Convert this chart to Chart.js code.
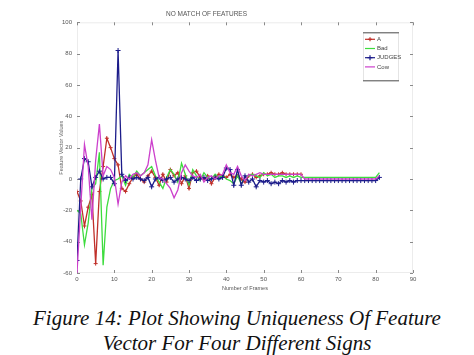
<!DOCTYPE html>
<html><head><meta charset="utf-8">
<script src="https://cdn.jsdelivr.net/npm/chart.js@4"></script>
<style>
html,body{margin:0;padding:0;background:#fff;}
#wrap{position:relative;width:474px;height:355px;overflow:hidden;}
#box{position:absolute;left:0;top:0;width:474px;height:300px;}
#cap{position:absolute;left:0;top:306px;width:474px;text-align:center;font-family:"Liberation Serif","DejaVu Serif",serif;font-style:italic;font-size:21px;line-height:25px;color:#111;}
</style></head><body>
<div id="wrap"><div id="box"><canvas id="c" width="474" height="300"></canvas></div>
<div id="cap">Figure 14: Plot Showing Uniqueness Of Feature<br>Vector For Four Different Signs</div></div>
<script>
const chartTitle = "NO MATCH OF FEATURES";
const xTitle = "Number of Frames";
const yTitle = "Feature Vector Values";
const seriesNames = ["A", "Bad", "JUDGES", "Cow"];
const framesShort = [0,1,2,3,4,5,6,7,8,9,10,11,12,13,14,15,16,17,18,19,20,21,22,23,24,25,26,27,28,29,30,31,32,33,34,35,36,37,38,39,40,41,42,43,44,45,46,47,48,49,50,51,52,53,54,55,56,57,58,59,60];
const framesLong = [0,1,2,3,4,5,6,7,8,9,10,11,12,13,14,15,16,17,18,19,20,21,22,23,24,25,26,27,28,29,30,31,32,33,34,35,36,37,38,39,40,41,42,43,44,45,46,47,48,49,50,51,52,53,54,55,56,57,58,59,60,61,62,63,64,65,66,67,68,69,70,71,72,73,74,75,76,77,78,79,80,81];
const valuesA = [-8,-14,-30,-18,-10,-54,-8,8,26,20,13,9,-6,-8,-3,1,3,0,-2,2,5,1,-4,3,-2,6,2,4,-3,2,-6,4,5,1,0,2,-3,1,3,2,1,3,1,2,0,-2,2,3,1,2,3,3,4,3,3,4,3,3,3,3,3];
const valuesBad = [-20,-22,-42,-28,-6,-3,17,-55,-18,-6,-1,0,2,-4,3,1,5,2,4,6,8,2,-2,-6,1,6,3,-2,10,3,-4,6,2,-1,4,1,0,3,1,2,0,-1,-3,2,-3,1,2,3,2,1,4,2,3,1,2,2,1,2,1,2,1,1,1,1,1,1,1,1,1,1,1,1,1,1,1,1,1,1,1,1,1,4];
const valuesJudges = [-52,0,13,11,-5,1,5,0,1,1,-3,82,3,-1,1,0,1,0,-1,1,-5,0,1,-1,0,1,-2,0,1,0,-1,1,-1,0,1,-1,0,1,0,1,7,6,-4,6,-4,2,-2,0,-5,-1,-2,-1,-3,-2,-3,-1,-2,-1,-2,-1,-1,-1,-1,-1,-1,-1,-1,-1,-1,-1,-1,-1,-1,-1,-1,-1,-1,-1,-1,-1,-1,1];
const valuesCow = [-60,-18,22,8,-26,12,35,2,8,6,1,-16,-2,2,0,3,4,2,4,9,25,12,1,0,-3,-6,-12,-7,4,9,5,2,1,3,-2,1,2,0,2,3,9,4,3,8,2,-1,3,2,3,4,3,3,3,3,3,3,3,3,3,3,3,0,0,0,0,0,0,0,0,0,0,0,0,0,0,0,0,0,0,0,0,2];
const xTicks = [0,10,20,30,40,50,60,70,80,90];
const yTicks = [-60,-40,-20,0,20,40,60,80,100];

function pts(xs, ys){ return ys.map((v,i)=>({x:xs[i], y:v})); }
const colors = ["#c0302a", "#3ddc3d", "#1c1c8a", "#cc40cc"];
const styles = ["cross", false, "cross", false];
const radii = [2, 0, 2.5, 0];
const FONT = '"Liberation Sans", Arial, sans-serif';

const frame = {
  id: 'frame',
  beforeDatasetsDraw(chart){
    const {ctx, chartArea:a, scales} = chart;
    ctx.save();
    ctx.strokeStyle = '#ececec'; ctx.lineWidth = 1;
    ctx.strokeRect(a.left+0.5, a.top+0.5, a.right-a.left-1, a.bottom-a.top-1);
    ctx.strokeStyle = '#8a8a8a';
    ctx.beginPath();
    xTicks.forEach(t=>{ const p = Math.round(scales.x.getPixelForValue(t))+0.5;
      ctx.moveTo(p, a.bottom); ctx.lineTo(p, a.bottom-3);
      ctx.moveTo(p, a.top); ctx.lineTo(p, a.top+3); });
    yTicks.forEach(t=>{ const p = Math.round(scales.y.getPixelForValue(t))+0.5;
      ctx.moveTo(a.left, p); ctx.lineTo(a.left+3, p);
      ctx.moveTo(a.right, p); ctx.lineTo(a.right-3, p); });
    ctx.stroke();
    ctx.restore();
  },
  afterDraw(chart){
    const {ctx, chartArea:a} = chart;
    const L = a.right - 50, T = a.top + 10, W = 35, H = 48;
    ctx.save();
    ctx.strokeStyle = '#e4e4e4'; ctx.lineWidth = 1;
    ctx.strokeRect(L+0.5, T+0.5, W, H);
    ctx.strokeStyle = '#555';
    ctx.beginPath(); ctx.moveTo(L, T+0.5); ctx.lineTo(L+W+1, T+0.5);
    ctx.moveTo(L, T+H+0.5); ctx.lineTo(L+W+1, T+H+0.5); ctx.stroke();
    ctx.font = '6px ' + FONT;
    ctx.textBaseline = 'middle';
    chart.data.datasets.forEach((ds,i)=>{
      const y = T + 7 + i*9.2;
      ctx.strokeStyle = ds.borderColor; ctx.lineWidth = 1.2;
      ctx.beginPath(); ctx.moveTo(L+2, y); ctx.lineTo(L+12, y); ctx.stroke();
      if (radii[i] > 0){
        ctx.beginPath(); ctx.moveTo(L+7-radii[i], y); ctx.lineTo(L+7+radii[i], y);
        ctx.moveTo(L+7, y-radii[i]); ctx.lineTo(L+7, y+radii[i]); ctx.stroke();
      }
      ctx.fillStyle = '#444';
      ctx.fillText(ds.label, L+14, y);
    });
    ctx.restore();
  }
};

new Chart(document.getElementById('c'), {
  type: 'line',
  data: {
    datasets: [
      {label: seriesNames[0], data: pts(framesShort, valuesA), order: 4},
      {label: seriesNames[1], data: pts(framesLong, valuesBad), order: 3},
      {label: seriesNames[2], data: pts(framesLong, valuesJudges), order: 2},
      {label: seriesNames[3], data: pts(framesLong, valuesCow), order: 1}
    ].map((d,i)=>Object.assign(d, {
      borderColor: colors[i], backgroundColor: colors[i], borderWidth: 1.3,
      pointStyle: styles[i], pointRadius: radii[i], pointBorderWidth: 1,
      pointBorderColor: colors[i], tension: 0, fill: false
    }))
  },
  options: {
    responsive: false, animation: false, devicePixelRatio: 1,
    layout: {padding: {left: 0, right: 61, top: 0.5, bottom: 0}},
    plugins: {
      legend: {display: false}, tooltip: {enabled: false},
      title: {display: true, text: chartTitle, color: '#555',
        font: {size: 6.5, family: FONT, weight: 'normal'},
        padding: {top: 10, bottom: 4}}
    },
    scales: {
      x: {type: 'linear', min: 0, max: 90,
        afterBuildTicks(s){ s.ticks = xTicks.map(v=>({value:v})); },
        afterFit(s){ s.height = 27; },
        grid: {display: false, drawTicks: false}, border: {display: false},
        ticks: {color: '#555', padding: 3, font: {size: 6, family: FONT}, maxRotation: 0},
        title: {display: true, text: xTitle, color: '#555', padding: {top: 0, bottom: 8.5},
          font: {size: 5.5, family: FONT}}},
      y: {type: 'linear', min: -60, max: 100,
        afterBuildTicks(s){ s.ticks = yTicks.map(v=>({value:v})); },
        afterFit(s){ s.width = 77; },
        grid: {display: false, drawTicks: false}, border: {display: false},
        ticks: {color: '#555', padding: 5, font: {size: 6, family: FONT}},
        title: {display: true, text: yTitle, color: '#666', padding: {top: 58, bottom: 0},
          font: {size: 5.5, family: FONT}}}
    }
  },
  plugins: [frame]
});
</script>
</body></html>
